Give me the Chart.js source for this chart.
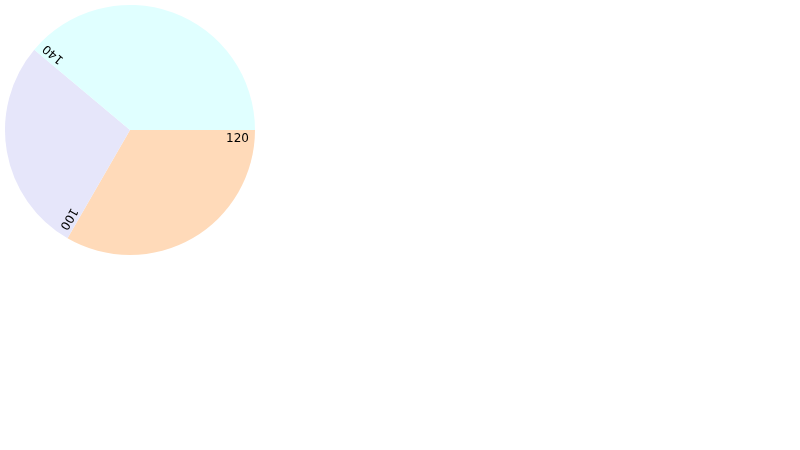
<!DOCTYPE html>
<html>
<head>
<meta charset="utf-8">
<script src="https://cdn.jsdelivr.net/npm/chart.js@4"></script>
<style>
html,body{margin:0;padding:0;background:#fff;}
#wrap{position:absolute;left:0;top:0;width:260px;height:260px;}
</style>
</head>
<body>
<div id="wrap"><canvas id="c" width="260" height="260"></canvas></div>
<script>
const categories = ['A', 'B', 'C'];
const values = [120, 100, 140];
const colors = ['#FFDAB9', '#E6E6FA', '#E0FFFF'];

const edgeLabels = {
  id: 'edgeLabels',
  afterDatasetsDraw(chart) {
    const ctx = chart.ctx;
    const meta = chart.getDatasetMeta(0);
    ctx.save();
    ctx.fillStyle = '#000';
    ctx.font = '12px "DejaVu Sans", sans-serif';
    ctx.textAlign = 'right';
    ctx.textBaseline = 'top';
    meta.data.forEach((arc, i) => {
      const p = arc.getProps(['x', 'y', 'startAngle', 'outerRadius'], true);
      ctx.save();
      ctx.translate(p.x, p.y);
      ctx.rotate(p.startAngle);
      ctx.fillText(String(values[i]), p.outerRadius - 6, 3);
      ctx.restore();
    });
    ctx.restore();
  }
};

new Chart(document.getElementById('c'), {
  type: 'pie',
  data: {
    labels: categories,
    datasets: [{
      data: values,
      backgroundColor: colors,
      borderWidth: 0
    }]
  },
  options: {
    responsive: false,
    animation: false,
    rotation: 90,
    layout: { padding: 5 },
    plugins: { legend: { display: false }, tooltip: { enabled: false } }
  },
  plugins: [edgeLabels]
});
</script>
</body>
</html>
